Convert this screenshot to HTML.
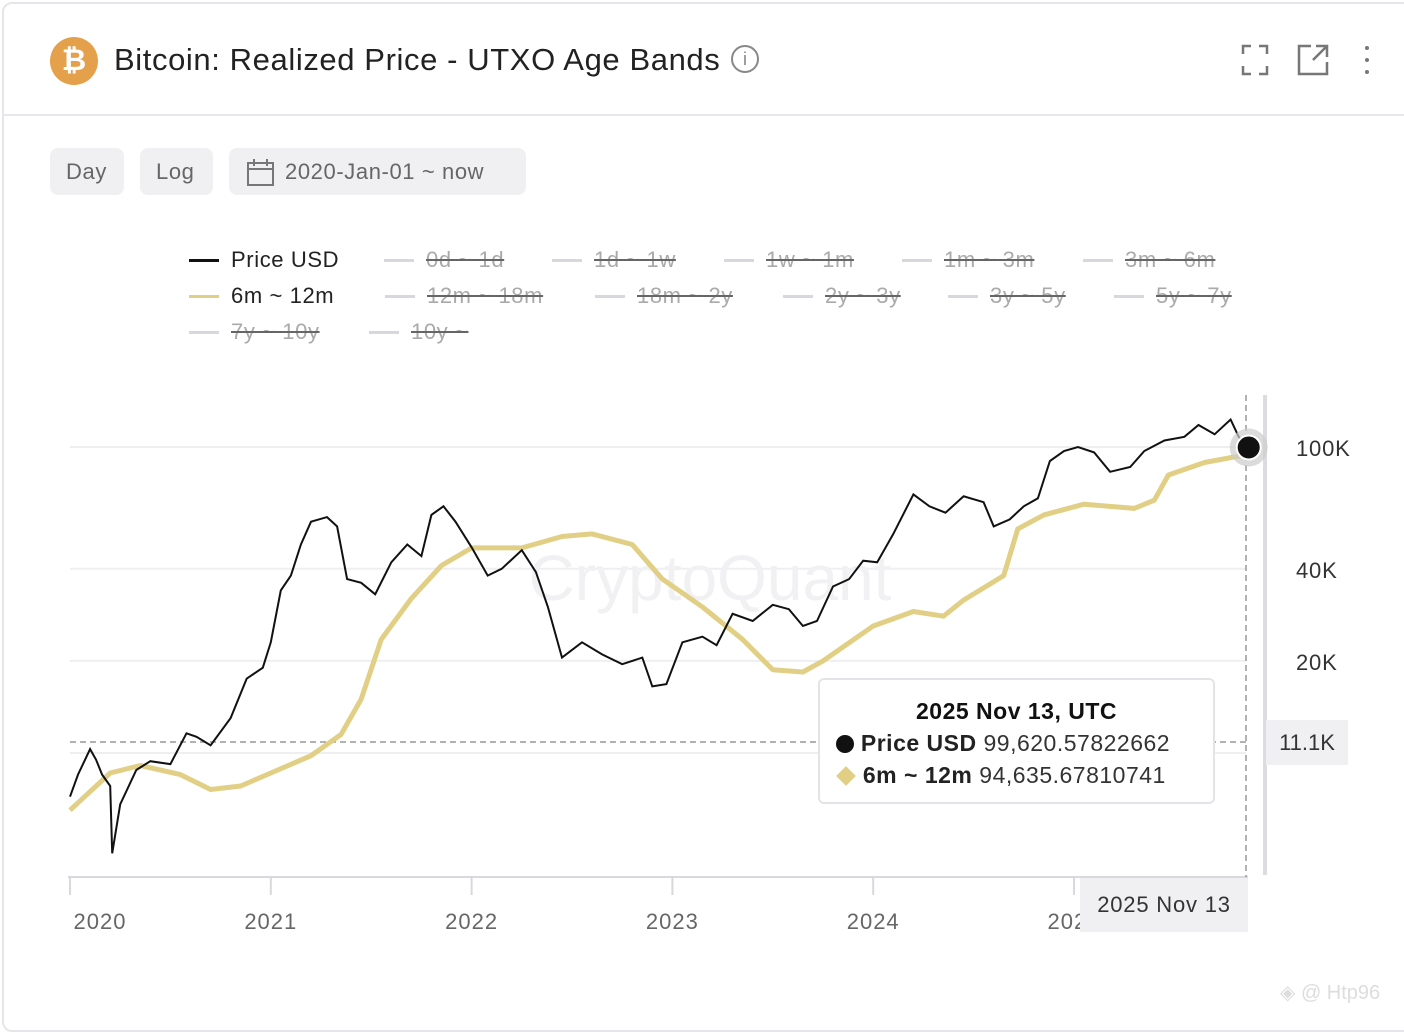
<!DOCTYPE html>
<html><head><meta charset="utf-8">
<style>
*{box-sizing:border-box;margin:0;padding:0}
body{width:1404px;height:1018px;background:#fff;font-family:"Liberation Sans",sans-serif;position:relative;overflow:hidden;color:#222}
.abs{position:absolute}
.card{left:2px;top:2px;width:1410px;height:1030px;border:2px solid #e6e6ea;border-radius:10px}
.btn{top:148px;height:47px;background:#f0f0f2;border-radius:8px;color:#666;font-size:22px;line-height:47px;padding:0 16px;letter-spacing:0.6px}
.leg{font-size:22px;line-height:26px;color:#aaa;text-decoration:line-through;text-decoration-color:#666;letter-spacing:0.6px}
.legline{height:3px;width:30px;background:#d8d8dc}
</style></head><body>
<div class="abs card"></div>
<div class="abs" style="left:50px;top:37px;width:48px;height:48px;border-radius:50%;background:#e4a04a;color:#fff;font-size:30px;font-weight:bold;text-align:center;line-height:48px">₿</div>
<div class="abs" style="left:114px;top:42px;font-size:31px;color:#222;letter-spacing:0.6px">Bitcoin: Realized Price - UTXO Age Bands</div>
<div class="abs" style="left:731px;top:45px;width:28px;height:28px;border:2px solid #888;border-radius:50%;color:#888;font-size:18px;text-align:center;line-height:24px">i</div>
<svg class="abs" style="left:1236px;top:40px" width="150" height="40">
<g stroke="#777" stroke-width="2.5" fill="none"><path d="M7 14V6h8M23 6h8v8M7 26v8h8M31 26v8h-8"/></g>
<g stroke="#777" stroke-width="2.5" fill="none"><path d="M75 6h-12v28h28v-12M80 6h11v11M91 6l-14 14"/></g>
<g fill="#777"><circle cx="131" cy="8" r="2"/><circle cx="131" cy="20" r="2"/><circle cx="131" cy="32" r="2"/></g>
</svg>
<div class="abs" style="left:2px;top:114px;width:1402px;height:2px;background:#e8e8ec"></div>
<div class="abs btn" style="left:50px;width:74px">Day</div>
<div class="abs btn" style="left:140px;width:73px">Log</div>
<div class="abs btn" style="left:229px;width:297px;padding-left:56px">2020-Jan-01 ~ now</div>
<svg class="abs" style="left:246px;top:158px" width="30" height="30"><rect x="2" y="5" width="25" height="22" fill="none" stroke="#777" stroke-width="2"/><path d="M2 11h25M8 1v7M21 1v7" stroke="#777" stroke-width="2"/></svg>

<div id="legend"></div>

<svg class="abs" id="chart" style="left:0;top:0" width="1404" height="1018"></svg>

<div class="abs" style="left:818px;top:678px;width:397px;height:126px;background:#fff;border:2px solid #e4e4e8;border-radius:6px;font-size:23px;letter-spacing:0.5px">
<div style="position:absolute;left:0;width:100%;top:18px;text-align:center;font-weight:bold;color:#111">2025 Nov 13, UTC</div>
<div style="position:absolute;left:16px;top:50px;white-space:nowrap"><span style="display:inline-block;width:18px;height:18px;border-radius:50%;background:#111;vertical-align:-2px"></span> <b>Price USD</b> <span style="color:#333">99,620.57822662</span></div>
<div style="position:absolute;left:16px;top:82px;white-space:nowrap"><span style="display:inline-block;width:14px;height:14px;background:#e2cf86;transform:rotate(45deg);margin:0 3px;vertical-align:0"></span> <b>6m ~ 12m</b> <span style="color:#333">94,635.67810741</span></div>
</div>
<div class="abs" style="left:1266px;top:720px;width:82px;height:45px;background:#f0f0f2;font-size:22px;line-height:45px;text-align:center;color:#333">11.1K</div>
<div class="abs" style="left:1080px;top:878px;width:168px;height:54px;background:#f0f0f2;font-size:22px;line-height:54px;text-align:center;color:#333;letter-spacing:0.8px">2025 Nov 13</div>
<div class="abs" style="left:1280px;top:980px;font-size:20px;color:#ddd">◈ @ Htp96</div>

<script>
const NS="http://www.w3.org/2000/svg";
const priceDates=[2020.0,2020.04,2020.1,2020.13,2020.16,2020.2,2020.21,2020.25,2020.33,2020.4,2020.5,2020.58,2020.63,2020.7,2020.8,2020.88,2020.96,2021.0,2021.05,2021.1,2021.15,2021.2,2021.28,2021.33,2021.38,2021.45,2021.52,2021.6,2021.68,2021.75,2021.8,2021.86,2021.92,2022.0,2022.08,2022.15,2022.25,2022.32,2022.38,2022.45,2022.55,2022.65,2022.75,2022.85,2022.9,2022.97,2023.05,2023.15,2023.22,2023.3,2023.4,2023.5,2023.58,2023.65,2023.72,2023.8,2023.88,2023.95,2024.02,2024.1,2024.2,2024.28,2024.36,2024.45,2024.55,2024.6,2024.68,2024.75,2024.82,2024.88,2024.95,2025.02,2025.1,2025.18,2025.28,2025.35,2025.45,2025.55,2025.62,2025.7,2025.78,2025.82,2025.87];
const priceVals=[7200,8500,10300,9500,8500,7800,4700,6800,8800,9400,9200,11600,11300,10600,13000,17500,19000,23000,34000,38000,48000,57000,59000,55000,37000,36000,33000,42000,48000,44000,60000,64000,57000,47000,38000,40000,46000,39000,30000,20500,23000,21000,19500,20500,16500,16800,23000,24000,22500,28500,27000,30500,29500,26000,27000,35000,37000,42500,42000,52000,70000,64000,61000,69000,66000,55000,58000,64000,68000,90000,97000,100000,96000,83000,86000,97000,105000,108000,118000,110000,123000,108000,99620];
const rpDates=[2020.0,2020.2,2020.35,2020.55,2020.7,2020.85,2021.0,2021.2,2021.35,2021.45,2021.55,2021.7,2021.85,2022.0,2022.25,2022.45,2022.6,2022.8,2022.95,2023.15,2023.35,2023.5,2023.65,2023.75,2024.0,2024.2,2024.35,2024.45,2024.65,2024.72,2024.85,2025.05,2025.3,2025.4,2025.47,2025.65,2025.87];
const rpVals=[6500,8600,9100,8500,7600,7800,8600,9800,11500,15000,23500,32000,41000,46800,46800,51000,52000,48000,37000,30000,23500,18700,18400,20000,26000,29000,28000,31600,38000,54000,60000,65000,63000,67000,81000,89000,94636];
const yTicks=[10000,20000,40000,100000];
const yTickLabels=["","20K","40K","100K"];
const xTicks=[2020,2021,2022,2023,2024,2025];
const xTickLabels=["2020","2021","2022","2023","2024","2025"];
const legendItems=[["Price USD",189,260,"#111",1],["0d ~ 1d",384,260],["1d ~ 1w",552,260],["1w ~ 1m",724,260],["1m ~ 3m",902,260],["3m ~ 6m",1083,260],["6m ~ 12m",189,296,"#e2cf86",1],["12m ~ 18m",385,296],["18m ~ 2y",595,296],["2y ~ 3y",783,296],["3y ~ 5y",948,296],["5y ~ 7y",1114,296],["7y ~ 10y",189,332],["10y ~",369,332]];

const X=t=>70+(t-2020)*200.8;
const Y=v=>447+306*Math.log10(100000/v);
const svg=document.getElementById('chart');
function mk(tag,attrs,parent){const e=document.createElementNS(NS,tag);for(const k in attrs)e.setAttribute(k,attrs[k]);(parent||svg).appendChild(e);return e;}

const leg=document.getElementById('legend');
legendItems.forEach(it=>{
  const ln=document.createElement('div');
  ln.className='abs legline';
  ln.style.left=it[1]+'px';ln.style.top=(it[2]-1)+'px';
  if(it[3])ln.style.background=it[3];
  
  
  leg.appendChild(ln);
  const tx=document.createElement('div');
  tx.className='abs leg';
  tx.style.left=(it[1]+42)+'px';tx.style.top=(it[2]-13)+'px';
  if(it[4]){tx.style.color='#222';tx.style.textDecoration='none';}
  tx.textContent=it[0];
  
  
  leg.appendChild(tx);
});

yTicks.forEach((v,i)=>{
  const g=mk('line',{x1:70,x2:1246,y1:Y(v),y2:Y(v),stroke:'#efeff2','stroke-width':2});
  
  
  const t=mk('text',{x:1296,y:Y(v)+9,'font-size':22,fill:'#333','font-family':'Liberation Sans, sans-serif','letter-spacing':0.8});
  t.textContent=yTickLabels[i];
  
  
});
const ax=mk('line',{x1:68,x2:1248,y1:877,y2:877,stroke:'#d8d8de','stroke-width':2});


xTicks.forEach((t,i)=>{
  const tk=mk('line',{x1:X(t),x2:X(t),y1:877,y2:895,stroke:'#d8d8de','stroke-width':2});
  
  
  const lx=Math.max(X(t),100);
  const l=mk('text',{x:lx,y:929,'font-size':22,fill:'#666','text-anchor':'middle','letter-spacing':1,'font-family':'Liberation Sans, sans-serif'});
  l.textContent=xTickLabels[i];
  
  
});
const wm=mk('text',{x:710,y:600,'font-size':64,fill:'#f1f1f3','text-anchor':'middle','font-family':'Liberation Sans, sans-serif'});
wm.textContent='CryptoQuant';


const ra=mk('line',{x1:1265,x2:1265,y1:395,y2:875,stroke:'#dcdce0','stroke-width':4});


const hc=mk('line',{x1:70,x2:1246,y1:742,y2:742,stroke:'#999','stroke-width':1.5,'stroke-dasharray':'6 4'});


const vc=mk('line',{x1:1246,x2:1246,y1:395,y2:877,stroke:'#999','stroke-width':1.5,'stroke-dasharray':'6 4'});



const rp=mk('path',{d:rpDates.map((d,i)=>(i?'L':'M')+X(d).toFixed(1)+' '+Y(rpVals[i]).toFixed(1)).join(''),fill:'none',stroke:'#e2cf86','stroke-width':5,'stroke-linejoin':'round'});


const pr=mk('path',{d:priceDates.map((d,i)=>(i?'L':'M')+X(d).toFixed(1)+' '+Y(priceVals[i]).toFixed(1)).join(''),fill:'none',stroke:'#111','stroke-width':2});


const lp=priceVals.length-1;
const halo=mk('circle',{cx:X(priceDates[lp]),cy:Y(priceVals[lp]),r:19,fill:'#ccc',opacity:0.7});


const dot=mk('circle',{cx:X(priceDates[lp]),cy:Y(priceVals[lp]),r:12,fill:'#111',stroke:'#fff','stroke-width':2});


</script>
</body></html>
